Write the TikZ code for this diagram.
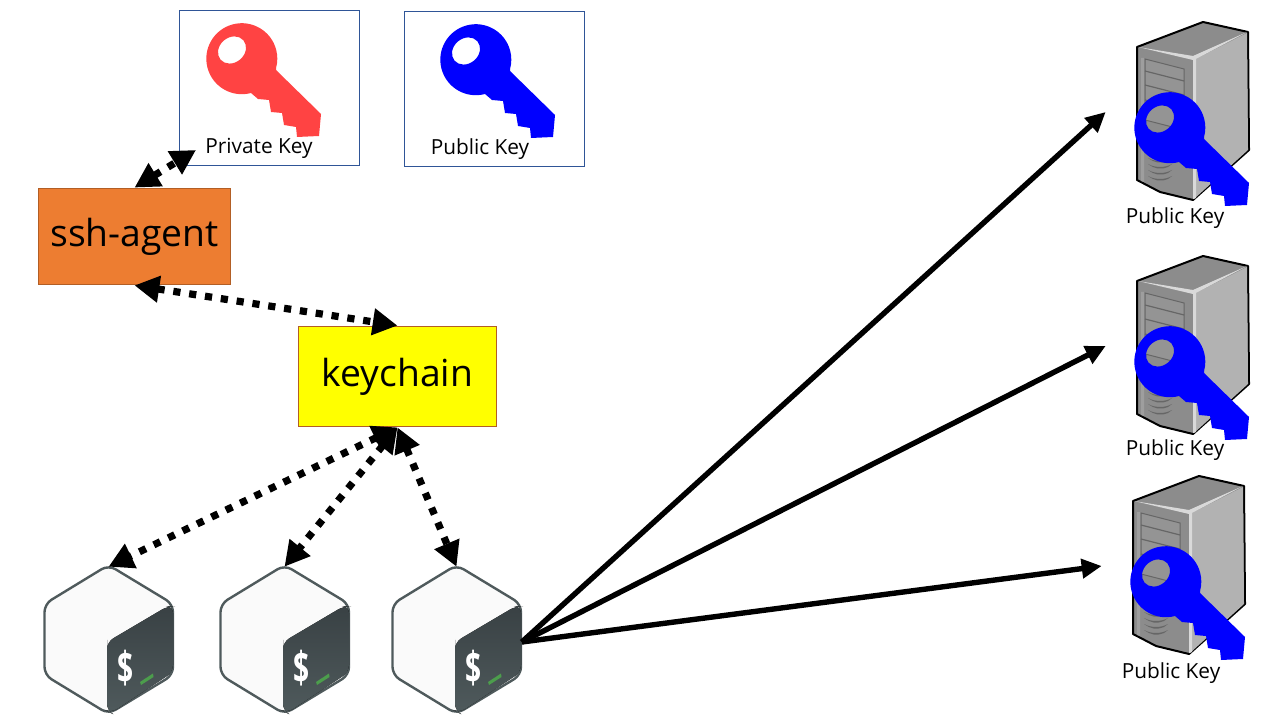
\documentclass[tikz,border=0pt]{standalone}
\usepackage{fontspec}
\setmainfont{Open Sans}
\usetikzlibrary{positioning,arrows.meta}

\definecolor{keyred}{HTML}{FF4343}
\definecolor{keyblue}{HTML}{0000FF}
\definecolor{boxblue}{HTML}{2F5597}
\definecolor{agentorange}{HTML}{ED7D31}
\definecolor{chainyellow}{HTML}{FFFF00}
\definecolor{bashdark}{HTML}{394144}
\definecolor{bashline}{HTML}{4F5A5C}

\tikzset{
    keybox/.style={draw=boxblue, line width=0.025cm, minimum width=4.5cm, minimum height=3.85cm, inner sep=0},
    toolbox/.style={line width=0.025cm, inner sep=0, font=\fontsize{26.5}{32}\selectfont},
    keylabel/.style={inner sep=0, font=\fontsize{14.8}{17}\selectfont},
    hidden/.style={inner sep=0, minimum width=3.25cm},
    dotlink/.style={line width=0.18cm, dash pattern=on 0.18cm off 0.22cm,
        {Triangle[length=0.62cm,width=0.64cm]}-{Triangle[length=0.62cm,width=0.64cm]}},
    sshlink/.style={line width=0.135cm, -{Triangle[length=0.5cm,width=0.47cm]}},
    pics/keyicon/.style={code={
        \fill[#1, even odd rule] (34,11) -- (79,55) -- (77,77) -- (55,78) -- (54,68) -- (42,66)
            -- (40,54) -- (29,53) -- (27,41) -- (16,40) -- (9,34)
            arc[start angle=75, end angle=375, radius=35.5] -- cycle
            (-10,-9) ellipse[x radius=15, y radius=12.5, rotate=40];
    }}
}

\begin{document}
\begin{tikzpicture}[x=0.025cm, y=-0.025cm]
    \useasboundingbox (0,0) rectangle (1280,720);

    % Key files
    \node[keybox] (privatebox) at (269.5,88) {};
    \node[keybox] (publicbox) at (494.5,89) {};
    \pic at (242,59) {keyicon=keyred};
    \pic at (476,60) {keyicon=keyblue};
    \node[keylabel] (privatelabel) at (259,148) {Private Key};
    \node[keylabel] (publiclabel) at (480,149) {Public Key};
    \coordinate (privatetip) at (196,150);

    % Tools
    \node[toolbox, draw=agentorange!75!black, fill=agentorange, minimum width=4.8cm, minimum height=2.42cm] (sshagent) at (134.5,236.5) {\raisebox{-0.34cm}{ssh-agent}};
    \node[toolbox, draw=agentorange!75!black, fill=chainyellow, minimum width=4.95cm, minimum height=2.52cm] (keychain) at (397.5,376.5) {\raisebox{-0.34cm}{keychain}};

    % Shells
    \foreach \bx/\bname in {0/bashone,176/bashtwo,348/bashthree} {
        \begin{scope}[shift={(\bx,0)}]
            \draw[bashline, line width=0.06cm, fill=black!2, rounded corners=0.2cm]
                (108.5,565) -- (173,604) -- (173,675) -- (108.5,714) -- (44.5,675) -- (44.5,604) -- cycle;
            \fill[top color=bashdark, bottom color=bashline, rounded corners=0.18cm]
                (107,647) -- (107,642) -- (168,606) -- (173,606) -- (173,672) -- (111,713) -- (107,711) -- cycle;
            \fill[green!45!black!70!white] (140,682) -- (153,673.5) -- (153.5,677) -- (141,685) -- cycle;
        \end{scope}
        \node[hidden, minimum height=3.65cm] (\bname) at (108.5+\bx,640) {};
        \node[inner sep=0, text=white, font=\bfseries\fontsize{25}{28}\selectfont, xscale=0.8, yscale=1.25, transform shape] at (126+\bx,668) {\$};
    }

    % Servers
    \foreach \sx/\sy/\ly/\sname in {0/0/218/serverone,0/234/450/servertwo,-4/454/673/serverthree} {
        \begin{scope}[shift={(\sx,\sy)}]
            \draw[black, line width=0.05cm, line join=round, fill=black!45]
                (1137,47) -- (1203,22) -- (1248,32) -- (1249,150) -- (1193,200) -- (1160,192) -- (1137,180) -- cycle;
            \fill[black!30] (1194,60) -- (1247,33) -- (1248,150) -- (1194,199) -- cycle;
            \fill[black!15] (1138,47) -- (1193,60) -- (1193,199) -- (1196,198) -- (1196,59) -- (1247,32) -- (1193,56) -- cycle;
            \fill[black!38] (1141,58) -- (1144,58) -- (1144,182) -- (1141,181) -- cycle;
            \draw[black!60, line width=0.025cm, fill=black!42]
                (1145,59) -- (1184,69) -- (1184,130) -- (1145,120) -- cycle;
            \draw[black!60, line width=0.03cm] (1145,71) -- (1184,81) (1145,85) -- (1184,95) (1145,100) -- (1184,110);
            \foreach \vy in {158,164,170,176} {
                \fill[black!60] (1148,\vy) .. controls (1155,\vy+4) and (1165,\vy+4) .. (1172,\vy) -- (1168,\vy+3) .. controls (1160,\vy+6) and (1155,\vy+5) .. cycle;
            }
            \pic at (1170,128) {keyicon=keyblue};
        \end{scope}
        \node[hidden, minimum width=3.65cm, minimum height=4.5cm] (\sname) at (1179+\sx,112+\sy) {};
        \node[keylabel] at (1175+\sx,\ly) {Public Key};
    }

    % Agent links
    \draw[dotlink] (sshagent.north) -- (privatetip);
    \draw[dotlink] (sshagent.south) -- (keychain.north);
    \draw[dotlink] (keychain.south) -- (bashone.north);
    \draw[dotlink] (keychain.south) -- (bashtwo.north);
    \draw[dotlink] (keychain.south) -- (bashthree.north);

    % Public key logins
    \draw[sshlink] ([yshift=-0.05cm]bashthree.east) -- (serverone.west);
    \draw[sshlink] ([yshift=-0.05cm]bashthree.east) -- (servertwo.west);
    \draw[sshlink] ([yshift=-0.05cm]bashthree.east) -- (serverthree.west);
\end{tikzpicture}
\end{document}
